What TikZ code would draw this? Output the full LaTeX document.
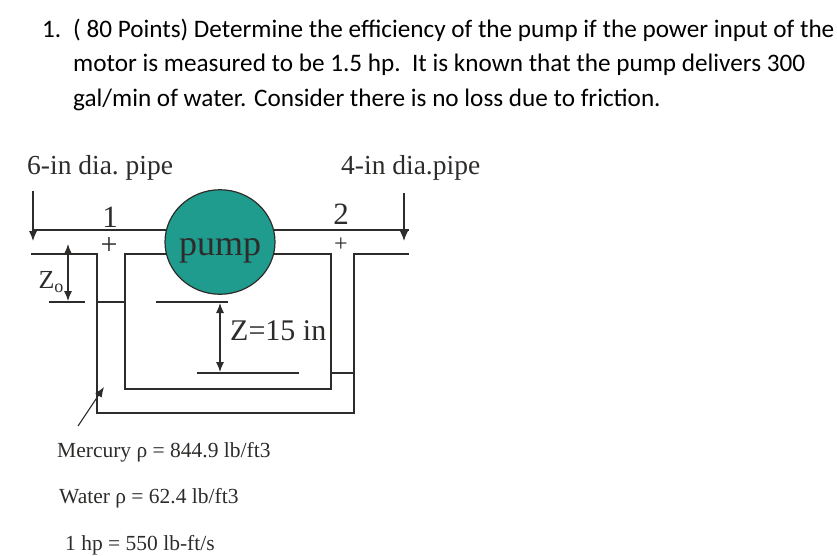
\documentclass[tikz,border=0pt]{standalone}
\usepackage{fontspec}
\usepackage{xcolor}
\usepackage{tikz}
\usetikzlibrary{arrows.meta}
\setmainfont{Liberation Serif}
\newfontfamily\probfont{Carlito}
\definecolor{pumpteal}{HTML}{1F9C8E}
\definecolor{inkgray}{HTML}{2E2C2A}
\tikzset{
  pipeline/.style={draw=inkgray,line width=1.1pt},
  dimarrow/.style={draw=inkgray,line width=1.1pt,>={Latex[length=10pt,width=8pt]}},
  probtext/.style={anchor=base west,inner sep=0pt,text=black,font=\probfont\fontsize{25.2}{28}\selectfont},
  labeltext/.style={anchor=base west,inner sep=0pt,text=inkgray,font=\fontsize{27.5}{30}\selectfont},
  smalltext/.style={anchor=base west,inner sep=0pt,text=inkgray,font=\fontsize{21.5}{24}\selectfont}
}
\begin{document}
\begin{tikzpicture}[x=1pt,y=-1pt]
\useasboundingbox (0,0) rectangle (837,555);
\node[probtext] (num) at (42,37) {1.};
\node[probtext] (line1) at (73,37) {( 80 Points) Determine the efficiency of the pump if the power input of the};
\node[probtext] (line2) at (73,71) {motor is measured to be 1.5 hp.\ \ It is known that the pump delivers 300};
\node[probtext] (line3) at (73,106) {gal/min of water. Consider there is no loss due to friction.};
\node[labeltext] (dia1) at (27,174) {6-in dia.\ pipe};
\node[labeltext] (dia2) at (341,174) {4-in dia.pipe};
% pipe and manometer
\draw[pipeline] (33,230) -- (409,230);
\draw[pipeline] (31,254) -- (97,254) -- (97,413) -- (354,413) -- (354,254) -- (409,254);
\draw[pipeline] (220,254) -- (125,254) -- (125,389) -- (331,389) -- (331,254) -- (220,254);
\draw[pipeline] (97,302) -- (125,302);
\draw[pipeline] (331,373) -- (354,373);
\node[circle,minimum size=110pt,inner sep=0pt,draw=inkgray,line width=1.2pt,fill=pumpteal,yscale=0.95] (pump) at (220,242) {};
\node[inner sep=0pt,text=inkgray,font=\fontsize{36}{38}\selectfont] (pumplabel) at (220,251) {pump};
% section marks
\node[inner sep=0pt,text=inkgray,font=\fontsize{31}{32}\selectfont] (sec1) at (110,217) {1};
\node[inner sep=0pt,text=inkgray,font=\fontsize{31}{32}\selectfont] (sec2) at (341,214) {2};
\node[inner sep=0pt,text=inkgray,font=\fontsize{30}{32}\selectfont] (plus1) at (109,246) {+};
\node[inner sep=0pt,text=inkgray,font=\fontsize{24}{26}\selectfont] (plus2) at (341,245) {+};
\coordinate (in1) at (33,191);
\coordinate (in2) at (33,241);
\coordinate (out1) at (404,193);
\coordinate (out2) at (404,241);
\draw[dimarrow,->] (in1) -- (in2);
\draw[dimarrow,->] (out1) -- (out2);
% heights
\draw[pipeline] (49,302) -- (85,302);
\draw[dimarrow,<->] (68,244) -- (68,301);
\node[inner sep=0pt,text=inkgray,font=\fontsize{26}{28}\selectfont] (zo) at (51,282) {Z\raisebox{-4pt}{\fontsize{18}{18}\selectfont o}};
\draw[pipeline] (156,302) -- (228,302);
\draw[pipeline] (197,373) -- (299,373);
\draw[dimarrow,<->] (220,303) -- (220,372);
\node[labeltext,font=\fontsize{30}{32}\selectfont] (zlabel) at (230,340) {Z=15 in};
\coordinate (lead) at (78,426);
\coordinate (tip) at (104,387);
\draw[dimarrow,->] (lead) -- (tip);
% data
\node[smalltext] (mercury) at (57,457) {Mercury ρ = 844.9 lb/ft3};
\node[smalltext] (water) at (59,503) {Water ρ = 62.4 lb/ft3};
\node[smalltext] (hp) at (65,550) {1 hp = 550 lb-ft/s};
\end{tikzpicture}
\end{document}
